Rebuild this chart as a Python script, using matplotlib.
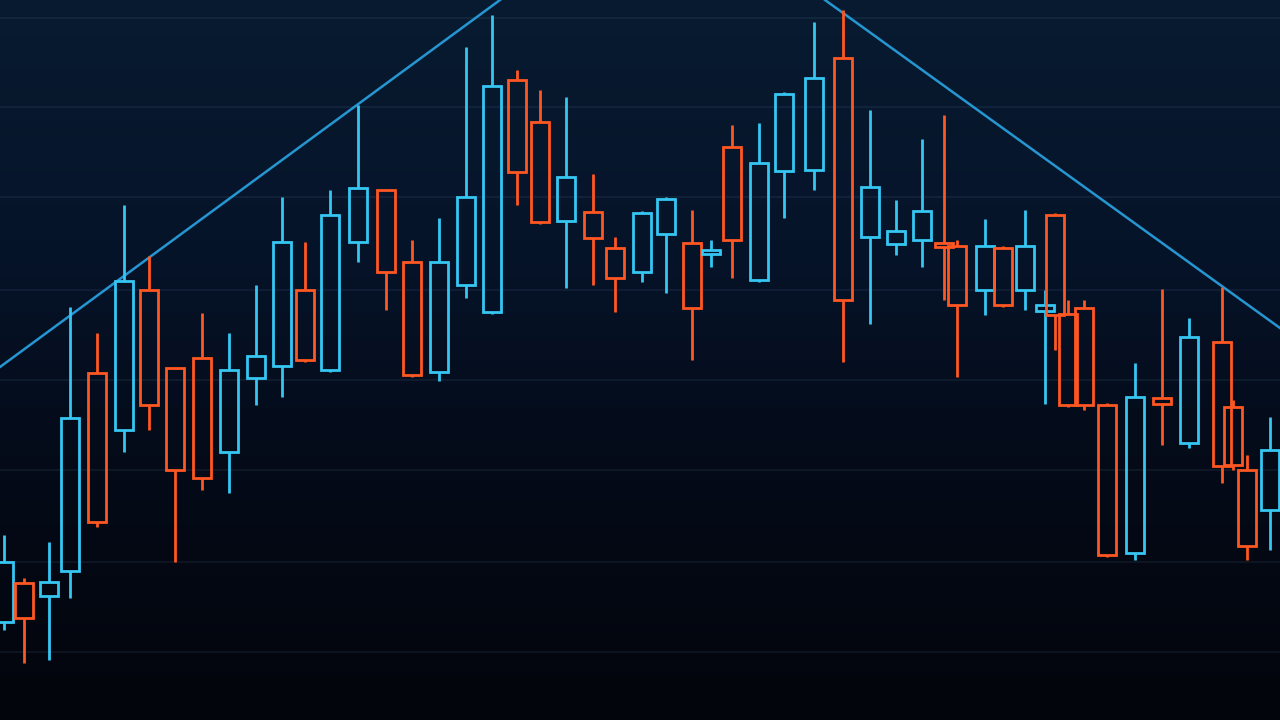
import numpy as np
import matplotlib
matplotlib.use("Agg")
import matplotlib.pyplot as plt
from matplotlib.colors import LinearSegmentedColormap

# candle time positions and prices (price axis runs 0..720)
t = [4, 24, 49, 70, 97, 124, 149, 175, 202, 229, 256, 282, 305, 330, 358, 386,
     412, 439, 466, 492, 517, 540, 566, 593, 615, 642, 666, 692, 711, 732, 759,
     784, 814, 843, 870, 896, 922, 944, 957, 985, 1003, 1025, 1045, 1055, 1068,
     1084, 1107, 1135, 1162, 1189, 1222, 1233, 1247, 1270]
open_ = [98, 137, 124, 149, 347, 290, 430, 352, 362, 268, 342, 354, 430, 350, 478, 530,
         458, 348, 435, 408, 640, 598, 499, 508, 472, 448, 486, 477, 466, 573, 440,
         549, 550, 662, 483, 476, 480, 477, 474, 430, 472, 430, 409, 505, 406,
         412, 315, 167, 322, 277, 378, 313, 250, 210]
close = [158, 102, 138, 302, 198, 439, 315, 250, 242, 350, 364, 478, 360, 505, 532, 448,
         345, 458, 523, 634, 548, 498, 543, 482, 442, 507, 521, 412, 470, 480, 557,
         626, 642, 420, 533, 489, 509, 473, 415, 474, 415, 474, 415, 405, 315,
         315, 165, 323, 316, 383, 254, 255, 174, 270]
high = [185, 142, 178, 413, 387, 515, 464, 352, 407, 387, 435, 523, 478, 530, 615, 530,
        480, 502, 673, 705, 650, 630, 623, 546, 483, 509, 523, 510, 480, 595, 597,
        628, 698, 710, 610, 520, 581, 605, 480, 501, 474, 510, 430, 507, 420,
        420, 317, 357, 431, 402, 433, 320, 265, 303]
low = [90, 57, 60, 122, 193, 268, 290, 158, 230, 227, 315, 323, 358, 348, 458, 410,
       343, 339, 422, 406, 515, 496, 432, 435, 408, 438, 427, 360, 453, 442, 438,
       502, 530, 358, 396, 465, 453, 420, 343, 405, 413, 410, 316, 370, 313,
       310, 163, 160, 275, 272, 237, 250, 160, 170]

# trend lines
up_line_t = [0, 500]
up_line_p = [353, 720]
down_line_t = [825, 1280]
down_line_p = [720, 392]

# faint horizontal levels
levels = [68, 158, 250, 340, 430, 523, 613, 702]

up_col = "#35c6f2"
down_col = "#ff5722"
trend_col = "#2596d1"

fig = plt.figure(figsize=(12.8, 7.2), dpi=100)
ax = fig.add_axes([0, 0, 1, 1])
ax.set_xlim(0, 1280)
ax.set_ylim(0, 720)

bg = LinearSegmentedColormap.from_list("bg", ["#03050c", "#040a17", "#06142a", "#081b30"])
grad = np.linspace(0, 1, 256).reshape(-1, 1)
ax.imshow(grad, cmap=bg, origin="lower", extent=[0, 1280, 0, 720], aspect="auto", zorder=0)

for lv in levels:
    ax.axhline(lv, color="#5a7a9a", lw=1.5, alpha=0.12, zorder=1)

ax.plot(up_line_t, up_line_p, color=trend_col, lw=1.8, zorder=2)
ax.plot(down_line_t, down_line_p, color=trend_col, lw=1.8, zorder=2)

w = 18
for x, o, c, h, l in zip(t, open_, close, high, low):
    col = up_col if c >= o else down_col
    top = max(o, c)
    bot = min(o, c)
    ax.vlines(x, top, h, color=col, lw=2, zorder=3)
    ax.vlines(x, l, bot, color=col, lw=2, zorder=3)
    ax.bar(x, top - bot, bottom=bot, width=w, fill=False, edgecolor=col, lw=2, zorder=3)

ax.axis("off")
fig.savefig("out.png", dpi=100)
